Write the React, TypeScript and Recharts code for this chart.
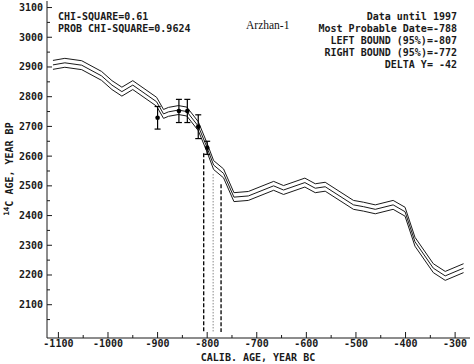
import React from 'react';
import {
  ComposedChart,
  Line,
  Scatter,
  ErrorBar,
  XAxis,
  YAxis,
  ReferenceLine,
} from 'recharts';

// calibration curve (14C age vs calendar year), centre and +/- 1 sigma band
const curveYears = [-1111, -1087, -1053, -1013, -992, -972, -950, -902, -888, -878, -858, -841, -818, -801, -787, -767, -746, -717, -666, -646, -603, -582, -562, -505, -485, -461, -425, -401, -381, -344, -320, -283];
const curveMid = [2907, 2914, 2906, 2870, 2839, 2817, 2839, 2783, 2742, 2749, 2755, 2750, 2701, 2632, 2570, 2542, 2462, 2466, 2500, 2486, 2511, 2492, 2497, 2436, 2430, 2421, 2436, 2413, 2312, 2223, 2197, 2223];
const curveUpper = [2922, 2929, 2921, 2885, 2854, 2832, 2854, 2798, 2757, 2764, 2770, 2765, 2716, 2647, 2585, 2557, 2477, 2481, 2515, 2501, 2526, 2507, 2512, 2451, 2445, 2436, 2451, 2428, 2327, 2238, 2212, 2238];
const curveLower = [2892, 2899, 2891, 2855, 2824, 2802, 2824, 2768, 2727, 2734, 2740, 2735, 2686, 2617, 2555, 2527, 2447, 2451, 2485, 2471, 2496, 2477, 2482, 2421, 2415, 2406, 2421, 2398, 2297, 2208, 2182, 2208];

// wiggle-matched samples
const sampleYears = [-900, -857, -840, -818, -800];
const sampleAges = [2729, 2752, 2752, 2699, 2628];
const sampleErrors = [38, 39, 39, 40, 22];

// 95% bounds and most probable date
const boundYears = [-807, -788, -772];
const boundTops = [2610, 2540, 2505];
const boundBottom = 2008;

const xTicks = [-1100, -1050, -1000, -950, -900, -850, -800, -750, -700, -650, -600, -550, -500, -450, -400, -350, -300];
const yTicks = [2050, 2100, 2150, 2200, 2250, 2300, 2350, 2400, 2450, 2500, 2550, 2600, 2650, 2700, 2750, 2800, 2850, 2900, 2950, 3000, 3050, 3100];

const curveData = curveYears.map((year, i) => ({
  year,
  mid: curveMid[i],
  hi: curveUpper[i],
  lo: curveLower[i],
}));

const samples = sampleYears.map((year, i) => ({
  year,
  age: sampleAges[i],
  err: sampleErrors[i],
}));

const MONO = '"DejaVu Sans Mono", "Liberation Mono", monospace';
const INK = '#1a1a1a';
const isMajor = (v: number) => v % 100 === 0;

const BottomTick = (props: any) => {
  const { x, y, payload } = props;
  const major = isMajor(payload.value);
  return (
    <g>
      <line x1={x} x2={x} y1={y} y2={y - (major ? 6 : 3)} stroke={INK} />
      {major && (
        <text x={x} y={y + 9} textAnchor="middle" fontFamily={MONO} fontWeight="bold" fontSize={10} fill={INK}>
          {payload.value}
        </text>
      )}
    </g>
  );
};

const TopTick = (props: any) => {
  const { x, y, payload } = props;
  const major = isMajor(payload.value);
  return <line x1={x} x2={x} y1={y} y2={y + (major ? 5 : 3)} stroke={INK} />;
};

const LeftTick = (props: any) => {
  const { x, y, payload } = props;
  const major = isMajor(payload.value);
  return (
    <g>
      <line x1={x} x2={x + (major ? 5 : 3)} y1={y} y2={y} stroke={INK} />
      {major && (
        <text x={x - 4} y={y + 3.5} textAnchor="end" fontFamily={MONO} fontWeight="bold" fontSize={10} fill={INK}>
          {payload.value}
        </text>
      )}
    </g>
  );
};

const RightTick = (props: any) => {
  const { x, y, payload } = props;
  const major = isMajor(payload.value);
  return <line x1={x} x2={x - (major ? 5 : 3)} y1={y} y2={y} stroke={INK} />;
};

const statsLeft = ['CHI-SQUARE=0.61', 'PROB CHI-SQUARE=0.9624'];
const statsRight = [
  'Data until 1997',
  'Most Probable Date=-788',
  'LEFT BOUND (95%)=-807',
  'RIGHT BOUND (95%)=-772',
  'DELTA Y= -42',
];

export default function App() {
  const xDomain = [-1123, -270];
  const yDomain = [1988, 3122];

  return (
    <div style={{ position: 'relative', width: 474, height: 364, background: '#fff' }}>
      <style>{'body{margin:0}'}</style>
      <ComposedChart width={474} height={364} data={curveData} margin={{ top: 1, right: 4, bottom: 0, left: 0 }}>
        <XAxis
          dataKey="year"
          type="number"
          domain={xDomain}
          ticks={xTicks}
          interval={0}
          allowDataOverflow
          height={26}
          tickSize={0}
          tickMargin={0}
          tickLine={false}
          tick={<BottomTick />}
          axisLine={{ stroke: INK }}
        />
        <XAxis
          xAxisId="top"
          orientation="top"
          type="number"
          domain={xDomain}
          ticks={xTicks}
          interval={0}
          allowDataOverflow
          height={0}
          tickSize={0}
          tickMargin={0}
          tickLine={false}
          tick={<TopTick />}
          axisLine={{ stroke: '#444' }}
        />
        <YAxis
          type="number"
          domain={yDomain}
          ticks={yTicks}
          interval={0}
          allowDataOverflow
          width={47}
          tickSize={0}
          tickMargin={0}
          tickLine={false}
          tick={<LeftTick />}
          axisLine={{ stroke: INK }}
        />
        <YAxis
          yAxisId="right"
          orientation="right"
          type="number"
          domain={yDomain}
          ticks={yTicks}
          interval={0}
          allowDataOverflow
          width={0}
          tickSize={0}
          tickMargin={0}
          tickLine={false}
          tick={<RightTick />}
          axisLine={{ stroke: '#444' }}
        />

        {boundYears.map((yr, i) => (
          <ReferenceLine
            key={yr}
            segment={[{ x: yr, y: boundTops[i] }, { x: yr, y: boundBottom }]}
            stroke={i === 1 ? '#888' : '#000'}
            strokeDasharray={i === 1 ? '1.5 1.5' : '4 2'}
            strokeWidth={i === 1 ? 1 : 1.3}
          />
        ))}

        <Line dataKey="hi" type="linear" stroke={INK} strokeWidth={1} dot={false} isAnimationActive={false} />
        <Line dataKey="mid" type="linear" stroke={INK} strokeWidth={1} dot={false} isAnimationActive={false} />
        <Line dataKey="lo" type="linear" stroke={INK} strokeWidth={1} dot={false} isAnimationActive={false} />

        <Scatter
          data={samples}
          dataKey="age"
          isAnimationActive={false}
          shape={(p: any) => <circle cx={p.cx} cy={p.cy} r={2.3} fill="#000" />}
        >
          <ErrorBar dataKey="err" direction="y" width={3} stroke="#000" strokeWidth={1.2} isAnimationActive={false} />
        </Scatter>
      </ComposedChart>

      <svg
        width={474}
        height={364}
        style={{ position: 'absolute', left: 0, top: 0, pointerEvents: 'none' }}
      >
        <g fontFamily={MONO} fontWeight="bold" fontSize={10} fill={INK}>
          {statsLeft.map((t, i) => (
            <text key={t} x={58} y={19.5 + i * 12.3}>
              {t}
            </text>
          ))}
          {statsRight.map((t, i) => (
            <text key={t} x={457} y={19.5 + i * 12.1} textAnchor="end">
              {t}
            </text>
          ))}
          <text x={258} y={360.5} textAnchor="middle">
            CALIB. AGE, YEAR BC
          </text>
          <text x={13} y={169} textAnchor="middle" transform="rotate(-90, 13, 169)">
            <tspan fontSize={7.5} dy={-4}>14</tspan>
            <tspan dy={4}>C AGE, YEAR BP</tspan>
          </text>
        </g>
        <text x={246} y={29} fontFamily='"Liberation Serif", "Times New Roman", serif' fontSize={11.5} fill="#111">
          Arzhan-1
        </text>
      </svg>
    </div>
  );
}
